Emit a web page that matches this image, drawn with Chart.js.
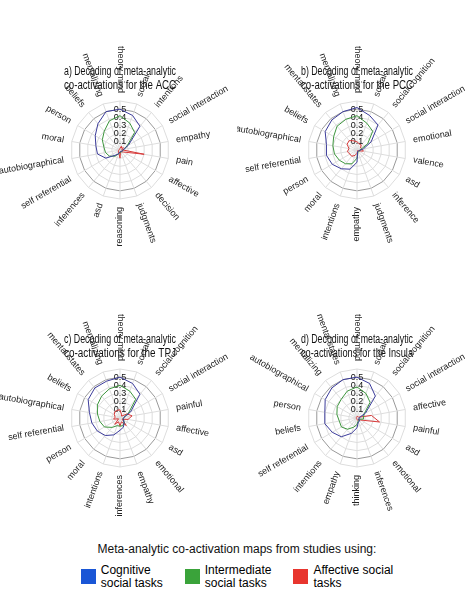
<!DOCTYPE html>
<html><head><meta charset="utf-8">
<script src="https://cdn.jsdelivr.net/npm/chart.js@4"></script>
<style>
body{margin:0;width:474px;height:591px;background:#fff;font-family:Arial,"Liberation Sans",sans-serif;overflow:hidden}
.grid{display:grid;grid-template-columns:237px 237px;grid-template-rows:268px 268px}
.cell{position:relative;width:237px;height:268px}
.leg{text-align:center;font-size:12px;color:#111;margin-top:6px}
.items{display:flex;justify-content:center;gap:22px;margin-top:8px;font-size:12px;line-height:13px}
.it{display:flex;align-items:flex-start;gap:5px;text-align:left}
.sw{width:15px;height:15px;margin-top:5px}
</style></head><body>
<div class="grid">
<div class="cell"><canvas id="c0"></canvas></div>
<div class="cell"><canvas id="c1"></canvas></div>
<div class="cell"><canvas id="c2"></canvas></div>
<div class="cell"><canvas id="c3"></canvas></div>
</div>
<div class="leg">Meta-analytic co-activation maps from studies using:</div>
<div class="items">
<div class="it"><div class="sw" style="background:#1a56d6"></div><div>Cognitive<br>social tasks</div></div>
<div class="it"><div class="sw" style="background:#3aa33a"></div><div>Intermediate<br>social tasks</div></div>
<div class="it"><div class="sw" style="background:#e8352e"></div><div>Affective social<br>tasks</div></div>
</div>
<script>
const titles=[["a) Decoding of meta-analytic","co-activations for the ACC"],["b) Decoding of meta-analytic","co-activations for the PCC"],["c) Decoding of meta-analytic","co-activations for the TPJ"],["d) Decoding of meta-analytic","co-activations for the Insula"]];
const accLabels=["theory mind","social","intentions","social interaction","empathy","pain","affective","decision","judgments","reasoning","asd","inferences","self referential","autobiographical","moral","person","beliefs","mentalizing"];
const accCog=[0.5,0.45,0.38,0.12,0.05,0.03,0.03,0.02,0.02,0.02,0.05,0.08,0.2,0.28,0.3,0.35,0.42,0.5];
const accInt=[0.42,0.35,0.28,0.1,0.05,0.03,0.03,0.03,0.03,0.03,0.05,0.1,0.15,0.18,0.2,0.25,0.3,0.38];
const accAff=[0.02,0.05,0.03,0.05,0.02,0.3,0.05,0.03,0.02,0.1,0.04,0.03,0.02,0.02,0.01,0.01,0.01,0.01];
const pccLabels=["theory mind","social","social cognition","social interaction","emotional","valence","asd","inference","judgments","empathy","intentions","moral","person","self referential","autobiographical","beliefs","mental states","mentalizing"];
const pccCog=[0.52,0.45,0.4,0.2,0.08,0.03,0.02,0.02,0.02,0.15,0.25,0.3,0.35,0.38,0.38,0.45,0.48,0.5];
const pccInt=[0.42,0.35,0.3,0.15,0.05,0.03,0.03,0.03,0.03,0.1,0.18,0.22,0.25,0.28,0.3,0.33,0.38,0.4];
const pccAff=[0.1,0.08,0.08,0.05,0.06,0.08,0.02,0.01,0.02,0.04,0.07,0.1,0.1,0.12,0.1,0.14,0.15,0.12];
const tpjLabels=["theory mind","social","social cognition","social interaction","painful","affective","asd","emotional","empathy","inferences","intentions","moral","person","self referential","autobiographical","beliefs","mental states","mentalizing"];
const tpjCog=[0.5,0.45,0.38,0.15,0.05,0.04,0.05,0.08,0.12,0.15,0.22,0.28,0.32,0.35,0.38,0.45,0.48,0.48];
const tpjInt=[0.4,0.35,0.3,0.12,0.05,0.04,0.05,0.08,0.1,0.1,0.1,0.15,0.22,0.25,0.28,0.32,0.35,0.38];
const tpjAff=[0.1,0.05,0.03,0.1,0.15,0.1,0.03,0.12,0.05,0.1,0.05,0.1,0.02,0.08,0.06,0.08,0.1,0.1];
const insLabels=["theory mind","social","social cognition","social interaction","affective","painful","asd","emotional","inferences","thinking","empathy","intentions","self referential","beliefs","person","autobiographical","mentalizing","mental states"];
const insCog=[0.5,0.45,0.35,0.12,0.03,0.03,0.02,0.05,0.05,0.12,0.2,0.3,0.35,0.4,0.4,0.45,0.48,0.5];
const insInt=[0.38,0.32,0.25,0.1,0.08,0.08,0.03,0.04,0.04,0.08,0.12,0.18,0.22,0.22,0.25,0.28,0.3,0.35];
const insAff=[0.02,0.02,0.02,0.02,0.18,0.28,0.05,0.03,0.03,0.02,0.01,0.01,0.01,0.01,0.01,0.01,0.01,0.01];
const panels=[[accLabels,accCog,accInt,accAff],[pccLabels,pccCog,pccInt,pccAff],[tpjLabels,tpjCog,tpjInt,tpjAff],[insLabels,insCog,insInt,insAff]];
const cols=["#3b3b9a","#3d963d","#d83a3a"];
const rotLabels={id:'rotLabels',afterDraw(chart){
 const s=chart.scales.r,ctx=chart.ctx,labels=chart.data.labels;
 ctx.save();ctx.font='9px Arial';ctx.fillStyle='#222';ctx.textBaseline='middle';
 labels.forEach((t,i)=>{
  const a=s.getIndexAngle(i)-Math.PI/2;
  const p=s.getPointPosition(i,s.drawingArea+8);
  ctx.save();ctx.translate(p.x,p.y);
  if(Math.cos(a)>1e-6){ctx.rotate(a);ctx.textAlign='left';}
  else{ctx.rotate(a+Math.PI);ctx.textAlign='right';}
  ctx.fillText(t,0,0);ctx.restore();
 });
 ctx.restore();}};
panels.forEach((p,i)=>{
 new Chart(document.getElementById('c'+i),{type:'radar',
  data:{labels:p[0],datasets:[1,2,3].map((k,j)=>({data:p[k],borderColor:cols[j],borderWidth:1,backgroundColor:'transparent',pointRadius:0,fill:false}))},
  plugins:[rotLabels],
  options:{responsive:true,maintainAspectRatio:false,animation:false,
   layout:{padding:{left:64,right:61,top:56,bottom:60}},
   plugins:{legend:{display:false},tooltip:{enabled:false},
    title:{display:true,text:titles[i],color:'#111',font:{size:12,family:'Arial',weight:'normal'},padding:{top:8,bottom:0}}},
   scales:{r:{min:0,max:0.6,
    ticks:{stepSize:0.1,showLabelBackdrop:false,color:'#111',font:{size:9},callback:v=>(v>0&&v<0.55)?v.toFixed(1):''},
    grid:{color:ctx=>ctx.index===5?'#999':'#ddd'},angleLines:{color:'#ddd'},
    pointLabels:{display:false}}}}
 });
});
</script></body></html>
